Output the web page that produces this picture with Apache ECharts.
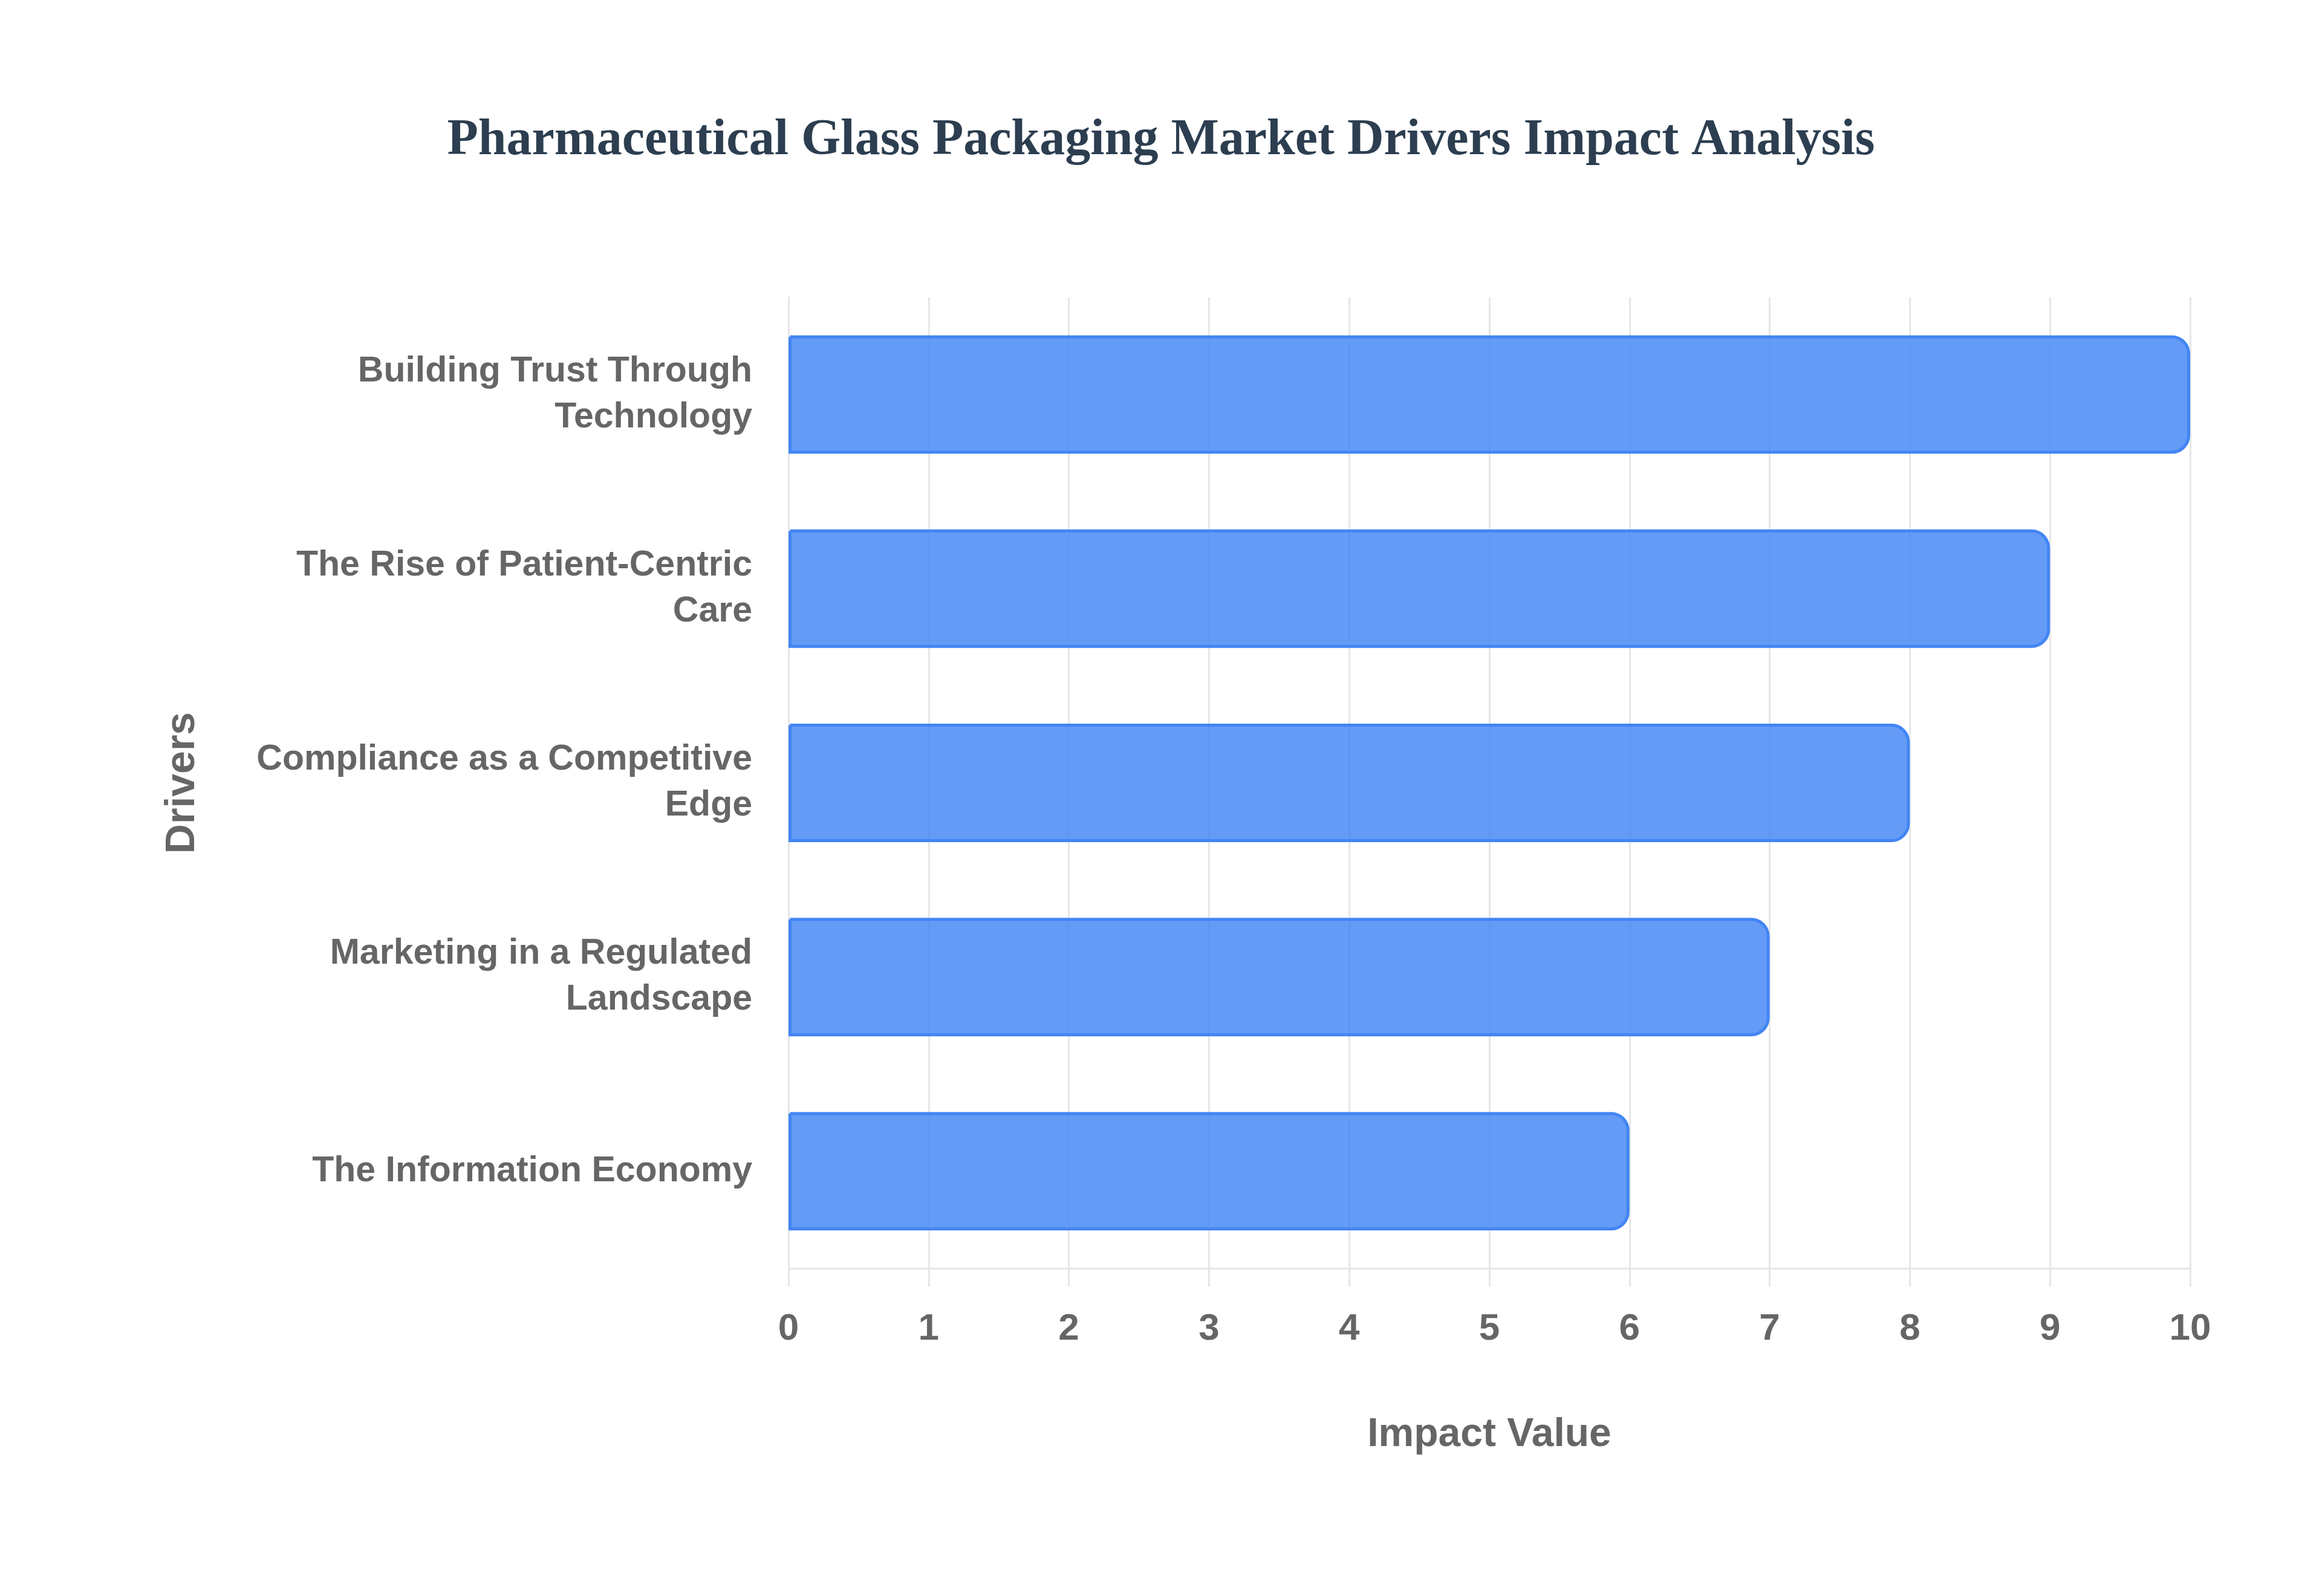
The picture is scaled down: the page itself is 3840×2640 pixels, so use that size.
<!DOCTYPE html>
<html>
<head>
<meta charset="utf-8">
<script src="https://cdn.jsdelivr.net/npm/echarts@6/dist/echarts.min.js"></script>
<style>
html,body{margin:0;padding:0;background:#ffffff;}
#chart{width:3840px;height:2640px;}
</style>
</head>
<body>
<div id="chart"></div>
<script>
var chartTitle = 'Pharmaceutical Glass Packaging Market Drivers Impact Analysis';
var categories = [
  'Building Trust Through Technology',
  'The Rise of Patient-Centric Care',
  'Compliance as a Competitive Edge',
  'Marketing in a Regulated Landscape',
  'The Information Economy'
];
var impactValues = [10, 9, 8, 7, 6];
var xAxisTitle = 'Impact Value';
var yAxisTitle = 'Drivers';

var gridColor = '#e6e6e6';
var textColor = '#666666';
var sans = '"Liberation Sans", Arial, sans-serif';
var labelFontSize = 59;
var labelMaxWidth = 870;

var measureCtx = document.createElement('canvas').getContext('2d');
measureCtx.font = 'bold ' + labelFontSize + 'px ' + sans;
function wrapLabel(text) {
  var words = text.split(' ');
  var lines = [];
  var cur = '';
  for (var i = 0; i < words.length; i++) {
    var trial = cur ? cur + ' ' + words[i] : words[i];
    if (cur && measureCtx.measureText(trial).width > labelMaxWidth) {
      lines.push(cur);
      cur = words[i];
    } else {
      cur = trial;
    }
  }
  if (cur) lines.push(cur);
  return lines.join('\n');
}

var chart = echarts.init(document.getElementById('chart'), null, {renderer: 'canvas'});

chart.setOption({
  backgroundColor: '#ffffff',
  animation: false,
  title: {
    text: chartTitle,
    left: 'center',
    top: 186,
    textStyle: {
      fontFamily: '"Liberation Serif", "Times New Roman", serif',
      fontWeight: 'bold',
      fontSize: 84,
      color: '#2c3e50'
    }
  },
  grid: {
    left: 1304,
    right: 218,
    top: 492,
    bottom: 542,
    containLabel: false
  },
  xAxis: {
    type: 'value',
    min: 0,
    max: 10,
    interval: 1,
    name: xAxisTitle,
    nameLocation: 'middle',
    nameGap: 243,
    nameTextStyle: {
      fontFamily: sans,
      fontWeight: 'bold',
      fontSize: 66,
      color: textColor
    },
    axisLine: { show: true, lineStyle: { color: gridColor, width: 3 } },
    axisTick: { show: true, length: 30, lineStyle: { color: gridColor, width: 3 } },
    axisLabel: {
      margin: 70,
      fontFamily: sans,
      fontWeight: 'bold',
      fontSize: 62,
      color: textColor
    },
    splitLine: { show: true, lineStyle: { color: gridColor, width: 3 } }
  },
  yAxis: {
    type: 'category',
    inverse: true,
    data: categories,
    name: yAxisTitle,
    nameLocation: 'middle',
    nameGap: 968,
    nameRotate: 90,
    nameTextStyle: {
      fontFamily: sans,
      fontWeight: 'bold',
      fontSize: 68,
      color: textColor
    },
    axisLine: { show: true, lineStyle: { color: gridColor, width: 3 } },
    axisTick: { show: false },
    splitLine: { show: false },
    axisLabel: {
      margin: 60,
      fontFamily: sans,
      fontWeight: 'bold',
      fontSize: labelFontSize,
      lineHeight: 76,
      color: textColor,
      align: 'right',
      formatter: function (v) { return wrapLabel(v); }
    }
  },
  series: [{
    type: 'bar',
    data: impactValues,
    barWidth: '61%',
    itemStyle: {
      color: 'rgba(66,133,244,0.82)',
      borderColor: '#4285f4',
      borderWidth: 5,
      borderRadius: [0, 28, 28, 0]
    }
  }]
});
</script>
</body>
</html>
